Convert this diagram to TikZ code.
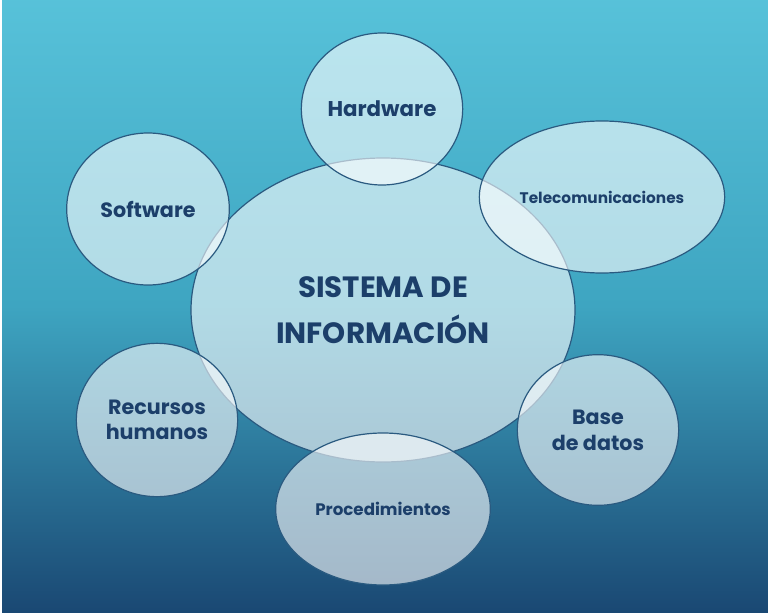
\documentclass[tikz,border=0pt]{standalone}
\usepackage{fontspec}
\setmainfont{Poppins}
\usetikzlibrary{shapes.geometric}
\definecolor{inktext}{HTML}{1C3F6A}
\definecolor{rimline}{HTML}{2A5A80}
\definecolor{bgA}{HTML}{0F2B53}
\definecolor{bgB}{HTML}{1A4873}
\definecolor{bgC}{HTML}{3EA5C1}
\definecolor{bgD}{HTML}{5AC5DC}
\definecolor{bgE}{HTML}{63CDE2}
\pgfdeclareverticalshading{backdrop}{100bp}{color(0bp)=(bgA); color(25bp)=(bgB); color(50bp)=(bgC); color(78bp)=(bgD); color(100bp)=(bgE)}
\tikzstyle{bubble}=[ellipse, draw=rimline, line width=0.9pt, fill=white, fill opacity=0.6, text opacity=1, text=inktext, inner sep=0pt, align=center]

\begin{document}
\begin{tikzpicture}[x=0.75pt, y=-0.75pt]
% Background
    \fill[white] (0,0) rectangle (768,614);
    \shade[shading=backdrop] (2,0) rectangle (768,612);
% Centre
    \node[bubble, minimum width=288pt, minimum height=228pt, font=\bfseries\fontsize{22}{34.5}\selectfont] (sis) at (383,310) {SISTEMA DE\\INFORMACIÓN};
% Components
    \node[bubble, minimum width=121pt, minimum height=114pt, font=\bfseries\fontsize{16}{20}\selectfont] (hw) at (382,109) {Hardware};
    \node[bubble, minimum width=184pt, minimum height=114pt, font=\bfseries\fontsize{11.5}{14}\selectfont] (tel) at (602,197) {Telecomunicaciones};
    \node[bubble, minimum width=122pt, minimum height=114pt, font=\bfseries\fontsize{15.5}{20}\selectfont] (sw) at (148,209) {Software};
    \node[bubble, minimum width=121pt, minimum height=115pt, font=\bfseries\fontsize{15.5}{18.5}\selectfont] (rh) at (157,420) {Recursos\\humanos};
    \node[bubble, minimum width=121pt, minimum height=113pt, font=\bfseries\fontsize{15.5}{19.5}\selectfont] (bd) at (598,430) {Base\\de datos};
    \node[bubble, minimum width=161pt, minimum height=114pt, font=\bfseries\fontsize{12.5}{16}\selectfont] (proc) at (383,509) {Procedimientos};
\end{tikzpicture}
\end{document}
